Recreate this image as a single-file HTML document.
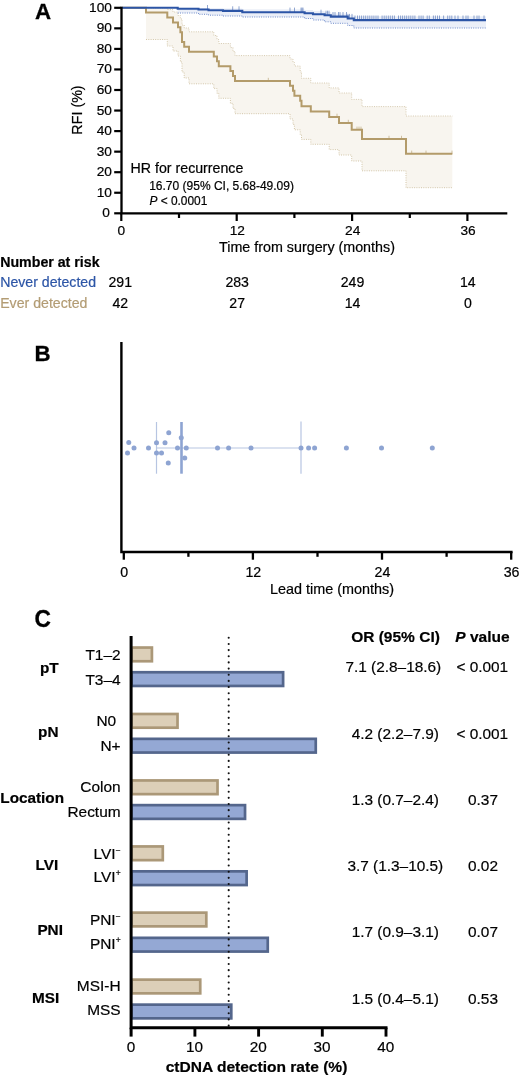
<!DOCTYPE html>
<html lang="en"><head><meta charset="utf-8"><title>Figure</title>
<style>html,body{margin:0;padding:0;background:#fff}svg{display:block}</style>
</head><body>
<svg width="520" height="1077" viewBox="0 0 520 1077" font-family='"Liberation Sans", Arial, Helvetica, sans-serif'>
<rect width="520" height="1077" fill="#fff"/>
<g id="panelA">
<text transform="translate(34.9,19.1) scale(0.97,1)" font-size="23" font-weight="bold" fill="#000" stroke="#000" stroke-width="0.3">A</text>
<path d="M146,8 L167.3,8 L167.3,9.5 L173,9.5 L173,12 L178,12 L178,15.5 L180.4,15.5 L180.4,19 L182,19 L182,25 L184.2,25 L184.2,28 L189,28 L189,31.8 L213.8,31.8 L213.8,35.5 L217,35.5 L217,39.5 L218.8,39.5 L218.8,43.5 L230.4,43.5 L230.4,47.5 L233,47.5 L233,51.5 L235,51.5 L235,55.6 L290,55.6 L290,59 L293,59 L293,62.5 L294.4,62.5 L294.4,66 L300.2,66 L300.2,72 L301.5,72 L301.5,78.3 L310.8,78.3 L310.8,83 L329.2,83 L329.2,87.9 L339,87.9 L339,93 L351.7,93 L351.7,99.4 L362,99.4 L362,106.6 L406,106.6 L406,116 L452.3,116 L452.3,187.7 L406,187.7 L406,170.8 L362,170.8 L362,161 L351.7,161 L351.7,155 L339,155 L339,149.6 L329.2,149.6 L329.2,144.3 L310.8,144.3 L310.8,139.4 L301.5,139.4 L301.5,134.6 L300.2,134.6 L300.2,129.8 L294.4,129.8 L294.4,124.5 L293,124.5 L293,119 L290,119 L290,113.7 L235,113.7 L235,108.5 L233,108.5 L233,103.4 L230.4,103.4 L230.4,98.3 L218.8,98.3 L218.8,93.4 L217,93.4 L217,88.6 L213.8,88.6 L213.8,83.8 L189,83.8 L189,78 L184.2,78 L184.2,72 L182,72 L182,62 L180.4,62 L180.4,56 L178,56 L178,51 L173,51 L173,46 L167.3,46 L167.3,39.5 L146,39.5 Z" fill="#f8f5ef"/>
<path d="M146,8 L167.3,8 L167.3,9.5 L173,9.5 L173,12 L178,12 L178,15.5 L180.4,15.5 L180.4,19 L182,19 L182,25 L184.2,25 L184.2,28 L189,28 L189,31.8 L213.8,31.8 L213.8,35.5 L217,35.5 L217,39.5 L218.8,39.5 L218.8,43.5 L230.4,43.5 L230.4,47.5 L233,47.5 L233,51.5 L235,51.5 L235,55.6 L290,55.6 L290,59 L293,59 L293,62.5 L294.4,62.5 L294.4,66 L300.2,66 L300.2,72 L301.5,72 L301.5,78.3 L310.8,78.3 L310.8,83 L329.2,83 L329.2,87.9 L339,87.9 L339,93 L351.7,93 L351.7,99.4 L362,99.4 L362,106.6 L406,106.6 L406,116 L452.3,116" fill="none" stroke="#d6cab0" stroke-width="1" stroke-dasharray="1 1.3"/>
<path d="M146,39.5 L167.3,39.5 L167.3,46 L173,46 L173,51 L178,51 L178,56 L180.4,56 L180.4,62 L182,62 L182,72 L184.2,72 L184.2,78 L189,78 L189,83.8 L213.8,83.8 L213.8,88.6 L217,88.6 L217,93.4 L218.8,93.4 L218.8,98.3 L230.4,98.3 L230.4,103.4 L233,103.4 L233,108.5 L235,108.5 L235,113.7 L290,113.7 L290,119 L293,119 L293,124.5 L294.4,124.5 L294.4,129.8 L300.2,129.8 L300.2,134.6 L301.5,134.6 L301.5,139.4 L310.8,139.4 L310.8,144.3 L329.2,144.3 L329.2,149.6 L339,149.6 L339,155 L351.7,155 L351.7,161 L362,161 L362,170.8 L406,170.8 L406,187.7 L452.3,187.7" fill="none" stroke="#d3c6a9" stroke-width="1" stroke-dasharray="1 1.3"/>
<path d="M177.7,7.8 L198.5,7.8 L198.5,7.9 L208.5,7.9 L208.5,8.1 L223,8.1 L223,8.4 L242.3,8.4 L242.3,9.2 L304.6,9.2 L304.6,10 L313,10 L313,11 L324.6,11 L324.6,12 L330.8,12 L330.8,13.5 L347.7,13.5 L347.7,15 L353.8,15 L353.8,16.3 L486,16.3 L486,28.0 L353.8,28.0 L353.8,25.5 L347.7,25.5 L347.7,23.3 L330.8,23.3 L330.8,21.8 L324.6,21.8 L324.6,20 L313,20 L313,18.5 L304.6,18.5 L304.6,17 L242.3,17 L242.3,16 L223,16 L223,15.2 L208.5,15.2 L208.5,14.3 L198.5,14.3 L198.5,13 L177.7,13 Z" fill="#ebeff8"/>
<path d="M177.7,13 L198.5,13 L198.5,14.3 L208.5,14.3 L208.5,15.2 L223,15.2 L223,16 L242.3,16 L242.3,17 L304.6,17 L304.6,18.5 L313,18.5 L313,20 L324.6,20 L324.6,21.8 L330.8,21.8 L330.8,23.3 L347.7,23.3 L347.7,25.5 L353.8,25.5 L353.8,28.0 L486,28.0" fill="none" stroke="#6f8ccb" stroke-width="1" stroke-dasharray="1 1.3"/>
<path d="M122,7.8 L146,7.8 L146,7.8 L146,12.6 L167.3,12.6 L167.3,17.5 L173,17.5 L173,22.4 L178,22.4 L178,27.3 L180.4,27.3 L180.4,32.2 L182,32.2 L182,41.9 L184.2,41.9 L184.2,46.8 L189,46.8 L189,51.7 L213.8,51.7 L213.8,56.5 L217,56.5 L217,61.3 L218.8,61.3 L218.8,66.2 L230.4,66.2 L230.4,71.1 L233,71.1 L233,76.1 L235,76.1 L235,81 L290,81 L290,85.8 L293,85.8 L293,90.8 L294.4,90.8 L294.4,95.8 L300.2,95.8 L300.2,100.8 L301.5,100.8 L301.5,106.2 L310.8,106.2 L310.8,111.6 L329.2,111.6 L329.2,116.9 L339,116.9 L339,123 L351.7,123 L351.7,129.8 L362,129.8 L362,139 L406,139 L406,153.8 L452.3,153.8" fill="none" stroke="#b39b6a" stroke-width="2" stroke-linejoin="miter"/>
<line x1="268.3" y1="77.8" x2="268.3" y2="81" stroke="#b39b6a" stroke-width="0.6"/>
<line x1="337" y1="113.7" x2="337" y2="116.9" stroke="#b39b6a" stroke-width="0.6"/>
<line x1="348.3" y1="119.8" x2="348.3" y2="123" stroke="#b39b6a" stroke-width="0.6"/>
<line x1="357" y1="126.60000000000001" x2="357" y2="129.8" stroke="#b39b6a" stroke-width="0.6"/>
<line x1="359" y1="126.60000000000001" x2="359" y2="129.8" stroke="#b39b6a" stroke-width="0.6"/>
<line x1="361" y1="126.60000000000001" x2="361" y2="129.8" stroke="#b39b6a" stroke-width="0.6"/>
<line x1="389" y1="135.8" x2="389" y2="139" stroke="#b39b6a" stroke-width="0.6"/>
<line x1="401.5" y1="135.8" x2="401.5" y2="139" stroke="#b39b6a" stroke-width="0.6"/>
<line x1="411.7" y1="150.60000000000002" x2="411.7" y2="153.8" stroke="#b39b6a" stroke-width="0.6"/>
<line x1="426" y1="150.60000000000002" x2="426" y2="153.8" stroke="#b39b6a" stroke-width="0.6"/>
<line x1="452" y1="150.60000000000002" x2="452" y2="153.8" stroke="#b39b6a" stroke-width="0.6"/>
<line x1="207.5" y1="5.0" x2="207.5" y2="9.55" stroke="#2c55a6" stroke-width="0.8" stroke-opacity="0.65"/>
<line x1="232.7" y1="6.3" x2="232.7" y2="10.9" stroke="#2c55a6" stroke-width="0.8" stroke-opacity="0.65"/>
<line x1="239.0" y1="6.3" x2="239.0" y2="10.9" stroke="#2c55a6" stroke-width="0.8" stroke-opacity="0.65"/>
<line x1="290.0" y1="7.6" x2="290.0" y2="12.2" stroke="#2c55a6" stroke-width="0.8" stroke-opacity="0.65"/>
<line x1="294.5" y1="7.6" x2="294.5" y2="12.2" stroke="#2c55a6" stroke-width="0.8" stroke-opacity="0.65"/>
<line x1="301.0" y1="7.6" x2="301.0" y2="12.2" stroke="#2c55a6" stroke-width="0.8" stroke-opacity="0.65"/>
<line x1="302.0" y1="7.6" x2="302.0" y2="12.2" stroke="#2c55a6" stroke-width="0.8" stroke-opacity="0.65"/>
<line x1="303.0" y1="7.6" x2="303.0" y2="12.2" stroke="#2c55a6" stroke-width="0.8" stroke-opacity="0.65"/>
<line x1="321.0" y1="9.7" x2="321.0" y2="14.3" stroke="#2c55a6" stroke-width="0.8" stroke-opacity="0.65"/>
<line x1="326.0" y1="10.7" x2="326.0" y2="15.3" stroke="#2c55a6" stroke-width="0.8" stroke-opacity="0.65"/>
<line x1="327.5" y1="10.7" x2="327.5" y2="15.3" stroke="#2c55a6" stroke-width="0.8" stroke-opacity="0.65"/>
<line x1="329.0" y1="10.7" x2="329.0" y2="15.3" stroke="#2c55a6" stroke-width="0.8" stroke-opacity="0.65"/>
<line x1="333.0" y1="12.0" x2="333.0" y2="16.6" stroke="#2c55a6" stroke-width="0.8" stroke-opacity="0.65"/>
<line x1="335.0" y1="12.0" x2="335.0" y2="16.6" stroke="#2c55a6" stroke-width="0.8" stroke-opacity="0.65"/>
<line x1="338.5" y1="12.0" x2="338.5" y2="16.6" stroke="#2c55a6" stroke-width="0.8" stroke-opacity="0.65"/>
<line x1="340.0" y1="12.0" x2="340.0" y2="16.6" stroke="#2c55a6" stroke-width="0.8" stroke-opacity="0.65"/>
<line x1="343.0" y1="12.0" x2="343.0" y2="16.6" stroke="#2c55a6" stroke-width="0.8" stroke-opacity="0.65"/>
<line x1="346.5" y1="12.0" x2="346.5" y2="16.6" stroke="#2c55a6" stroke-width="0.8" stroke-opacity="0.65"/>
<line x1="348.0" y1="13.9" x2="348.0" y2="18.5" stroke="#2c55a6" stroke-width="0.8" stroke-opacity="0.65"/>
<line x1="349.5" y1="13.9" x2="349.5" y2="18.5" stroke="#2c55a6" stroke-width="0.8" stroke-opacity="0.65"/>
<line x1="352.0" y1="13.9" x2="352.0" y2="18.5" stroke="#2c55a6" stroke-width="0.8" stroke-opacity="0.65"/>
<line x1="355.0" y1="15.5" x2="355.0" y2="20.1" stroke="#2c55a6" stroke-width="0.8" stroke-opacity="0.65"/>
<line x1="357.5" y1="15.5" x2="357.5" y2="20.1" stroke="#2c55a6" stroke-width="0.8" stroke-opacity="0.65"/>
<line x1="359.6" y1="15.5" x2="359.6" y2="20.1" stroke="#2c55a6" stroke-width="0.8" stroke-opacity="0.65"/>
<line x1="361.6" y1="15.5" x2="361.6" y2="20.1" stroke="#2c55a6" stroke-width="0.8" stroke-opacity="0.65"/>
<line x1="363.7" y1="15.5" x2="363.7" y2="20.1" stroke="#2c55a6" stroke-width="0.8" stroke-opacity="0.65"/>
<line x1="365.7" y1="15.5" x2="365.7" y2="20.1" stroke="#2c55a6" stroke-width="0.8" stroke-opacity="0.65"/>
<line x1="367.8" y1="15.5" x2="367.8" y2="20.1" stroke="#2c55a6" stroke-width="0.8" stroke-opacity="0.65"/>
<line x1="369.8" y1="15.5" x2="369.8" y2="20.1" stroke="#2c55a6" stroke-width="0.8" stroke-opacity="0.65"/>
<line x1="371.9" y1="15.5" x2="371.9" y2="20.1" stroke="#2c55a6" stroke-width="0.8" stroke-opacity="0.65"/>
<line x1="373.9" y1="15.5" x2="373.9" y2="20.1" stroke="#2c55a6" stroke-width="0.8" stroke-opacity="0.65"/>
<line x1="376.0" y1="15.5" x2="376.0" y2="20.1" stroke="#2c55a6" stroke-width="0.8" stroke-opacity="0.65"/>
<line x1="378.0" y1="15.5" x2="378.0" y2="20.1" stroke="#2c55a6" stroke-width="0.8" stroke-opacity="0.65"/>
<line x1="382.1" y1="15.5" x2="382.1" y2="20.1" stroke="#2c55a6" stroke-width="0.8" stroke-opacity="0.65"/>
<line x1="384.2" y1="15.5" x2="384.2" y2="20.1" stroke="#2c55a6" stroke-width="0.8" stroke-opacity="0.65"/>
<line x1="386.2" y1="15.5" x2="386.2" y2="20.1" stroke="#2c55a6" stroke-width="0.8" stroke-opacity="0.65"/>
<line x1="388.3" y1="15.5" x2="388.3" y2="20.1" stroke="#2c55a6" stroke-width="0.8" stroke-opacity="0.65"/>
<line x1="390.3" y1="15.5" x2="390.3" y2="20.1" stroke="#2c55a6" stroke-width="0.8" stroke-opacity="0.65"/>
<line x1="392.4" y1="15.5" x2="392.4" y2="20.1" stroke="#2c55a6" stroke-width="0.8" stroke-opacity="0.65"/>
<line x1="394.4" y1="15.5" x2="394.4" y2="20.1" stroke="#2c55a6" stroke-width="0.8" stroke-opacity="0.65"/>
<line x1="398.5" y1="15.5" x2="398.5" y2="20.1" stroke="#2c55a6" stroke-width="0.8" stroke-opacity="0.65"/>
<line x1="400.6" y1="15.5" x2="400.6" y2="20.1" stroke="#2c55a6" stroke-width="0.8" stroke-opacity="0.65"/>
<line x1="402.6" y1="15.5" x2="402.6" y2="20.1" stroke="#2c55a6" stroke-width="0.8" stroke-opacity="0.65"/>
<line x1="404.7" y1="15.5" x2="404.7" y2="20.1" stroke="#2c55a6" stroke-width="0.8" stroke-opacity="0.65"/>
<line x1="406.7" y1="15.5" x2="406.7" y2="20.1" stroke="#2c55a6" stroke-width="0.8" stroke-opacity="0.65"/>
<line x1="408.8" y1="15.5" x2="408.8" y2="20.1" stroke="#2c55a6" stroke-width="0.8" stroke-opacity="0.65"/>
<line x1="410.8" y1="15.5" x2="410.8" y2="20.1" stroke="#2c55a6" stroke-width="0.8" stroke-opacity="0.65"/>
<line x1="412.9" y1="15.5" x2="412.9" y2="20.1" stroke="#2c55a6" stroke-width="0.8" stroke-opacity="0.65"/>
<line x1="414.9" y1="15.5" x2="414.9" y2="20.1" stroke="#2c55a6" stroke-width="0.8" stroke-opacity="0.65"/>
<line x1="419.0" y1="15.5" x2="419.0" y2="20.1" stroke="#2c55a6" stroke-width="0.8" stroke-opacity="0.65"/>
<line x1="421.1" y1="15.5" x2="421.1" y2="20.1" stroke="#2c55a6" stroke-width="0.8" stroke-opacity="0.65"/>
<line x1="423.1" y1="15.5" x2="423.1" y2="20.1" stroke="#2c55a6" stroke-width="0.8" stroke-opacity="0.65"/>
<line x1="427.2" y1="15.5" x2="427.2" y2="20.1" stroke="#2c55a6" stroke-width="0.8" stroke-opacity="0.65"/>
<line x1="429.3" y1="15.5" x2="429.3" y2="20.1" stroke="#2c55a6" stroke-width="0.8" stroke-opacity="0.65"/>
<line x1="433.4" y1="15.5" x2="433.4" y2="20.1" stroke="#2c55a6" stroke-width="0.8" stroke-opacity="0.65"/>
<line x1="435.4" y1="15.5" x2="435.4" y2="20.1" stroke="#2c55a6" stroke-width="0.8" stroke-opacity="0.65"/>
<line x1="437.5" y1="15.5" x2="437.5" y2="20.1" stroke="#2c55a6" stroke-width="0.8" stroke-opacity="0.65"/>
<line x1="439.5" y1="15.5" x2="439.5" y2="20.1" stroke="#2c55a6" stroke-width="0.8" stroke-opacity="0.65"/>
<line x1="443.6" y1="15.5" x2="443.6" y2="20.1" stroke="#2c55a6" stroke-width="0.8" stroke-opacity="0.65"/>
<line x1="447.7" y1="15.5" x2="447.7" y2="20.1" stroke="#2c55a6" stroke-width="0.8" stroke-opacity="0.65"/>
<line x1="449.8" y1="15.5" x2="449.8" y2="20.1" stroke="#2c55a6" stroke-width="0.8" stroke-opacity="0.65"/>
<line x1="451.8" y1="15.5" x2="451.8" y2="20.1" stroke="#2c55a6" stroke-width="0.8" stroke-opacity="0.65"/>
<line x1="455.0" y1="15.5" x2="455.0" y2="20.1" stroke="#2c55a6" stroke-width="0.8" stroke-opacity="0.65"/>
<line x1="458.0" y1="15.5" x2="458.0" y2="20.1" stroke="#2c55a6" stroke-width="0.8" stroke-opacity="0.65"/>
<line x1="463.0" y1="15.5" x2="463.0" y2="20.1" stroke="#2c55a6" stroke-width="0.8" stroke-opacity="0.65"/>
<line x1="466.0" y1="15.5" x2="466.0" y2="20.1" stroke="#2c55a6" stroke-width="0.8" stroke-opacity="0.65"/>
<line x1="468.0" y1="15.5" x2="468.0" y2="20.1" stroke="#2c55a6" stroke-width="0.8" stroke-opacity="0.65"/>
<line x1="474.0" y1="15.5" x2="474.0" y2="20.1" stroke="#2c55a6" stroke-width="0.8" stroke-opacity="0.65"/>
<line x1="477.0" y1="15.5" x2="477.0" y2="20.1" stroke="#2c55a6" stroke-width="0.8" stroke-opacity="0.65"/>
<line x1="479.0" y1="15.5" x2="479.0" y2="20.1" stroke="#2c55a6" stroke-width="0.8" stroke-opacity="0.65"/>
<line x1="484.0" y1="15.5" x2="484.0" y2="20.1" stroke="#2c55a6" stroke-width="0.8" stroke-opacity="0.65"/>
<path d="M122,7.8 L177.7,7.8 L177.7,8.8 L198.5,8.8 L198.5,9.55 L208.5,9.55 L208.5,10.2 L223,10.2 L223,10.9 L242.3,10.9 L242.3,12.2 L304.6,12.2 L304.6,13.2 L313,13.2 L313,14.3 L324.6,14.3 L324.6,15.3 L330.8,15.3 L330.8,16.6 L347.7,16.6 L347.7,18.5 L353.8,18.5 L353.8,20.1 L486,20.1" fill="none" stroke="#2c55a6" stroke-width="2.1" />
<path d="M121.5,6.7 V214.4 M120.3,213.35 H507.3" stroke="#000" stroke-width="2.3" fill="none"/>
<line x1="114.2" y1="7.8" x2="121.5" y2="7.8" stroke="#000" stroke-width="2.2"/>
<text x="111.9" y="11.8" font-size="13.7" text-anchor="end" font-weight="normal" fill="#000" stroke="#000" stroke-width="0.2" >100</text>
<line x1="114.2" y1="28.35" x2="121.5" y2="28.35" stroke="#000" stroke-width="2.2"/>
<text x="111.9" y="32.35" font-size="13.7" text-anchor="end" font-weight="normal" fill="#000" stroke="#000" stroke-width="0.2" >90</text>
<line x1="114.2" y1="48.9" x2="121.5" y2="48.9" stroke="#000" stroke-width="2.2"/>
<text x="111.9" y="52.9" font-size="13.7" text-anchor="end" font-weight="normal" fill="#000" stroke="#000" stroke-width="0.2" >80</text>
<line x1="114.2" y1="69.45" x2="121.5" y2="69.45" stroke="#000" stroke-width="2.2"/>
<text x="111.9" y="73.45" font-size="13.7" text-anchor="end" font-weight="normal" fill="#000" stroke="#000" stroke-width="0.2" >70</text>
<line x1="114.2" y1="90.0" x2="121.5" y2="90.0" stroke="#000" stroke-width="2.2"/>
<text x="111.9" y="94.0" font-size="13.7" text-anchor="end" font-weight="normal" fill="#000" stroke="#000" stroke-width="0.2" >60</text>
<line x1="114.2" y1="110.55" x2="121.5" y2="110.55" stroke="#000" stroke-width="2.2"/>
<text x="111.9" y="114.55" font-size="13.7" text-anchor="end" font-weight="normal" fill="#000" stroke="#000" stroke-width="0.2" >50</text>
<line x1="114.2" y1="131.1" x2="121.5" y2="131.1" stroke="#000" stroke-width="2.2"/>
<text x="111.9" y="135.1" font-size="13.7" text-anchor="end" font-weight="normal" fill="#000" stroke="#000" stroke-width="0.2" >40</text>
<line x1="114.2" y1="151.65" x2="121.5" y2="151.65" stroke="#000" stroke-width="2.2"/>
<text x="111.9" y="155.65" font-size="13.7" text-anchor="end" font-weight="normal" fill="#000" stroke="#000" stroke-width="0.2" >30</text>
<line x1="114.2" y1="172.2" x2="121.5" y2="172.2" stroke="#000" stroke-width="2.2"/>
<text x="111.9" y="176.2" font-size="13.7" text-anchor="end" font-weight="normal" fill="#000" stroke="#000" stroke-width="0.2" >20</text>
<line x1="114.2" y1="192.75" x2="121.5" y2="192.75" stroke="#000" stroke-width="2.2"/>
<text x="111.9" y="196.75" font-size="13.7" text-anchor="end" font-weight="normal" fill="#000" stroke="#000" stroke-width="0.2" >10</text>
<line x1="114.2" y1="213.3" x2="121.5" y2="213.3" stroke="#000" stroke-width="2.2"/>
<text x="109.9" y="217.3" font-size="13.7" text-anchor="end" font-weight="normal" fill="#000" stroke="#000" stroke-width="0.2" >0</text>
<line x1="121.3" y1="213.3" x2="121.3" y2="221" stroke="#000" stroke-width="2.2"/>
<text x="121.4" y="235.4" font-size="13.7" text-anchor="middle" font-weight="normal" fill="#000" stroke="#000" stroke-width="0.2" >0</text>
<line x1="179.0" y1="213.3" x2="179.0" y2="218" stroke="#000" stroke-width="2.2"/>
<line x1="236.7" y1="213.3" x2="236.7" y2="221" stroke="#000" stroke-width="2.2"/>
<text x="237.3" y="235.4" font-size="13.7" text-anchor="middle" font-weight="normal" fill="#000" stroke="#000" stroke-width="0.2" >12</text>
<line x1="294.4" y1="213.3" x2="294.4" y2="218" stroke="#000" stroke-width="2.2"/>
<line x1="352.1" y1="213.3" x2="352.1" y2="221" stroke="#000" stroke-width="2.2"/>
<text x="352.7" y="235.4" font-size="13.7" text-anchor="middle" font-weight="normal" fill="#000" stroke="#000" stroke-width="0.2" >24</text>
<line x1="409.8" y1="213.3" x2="409.8" y2="218" stroke="#000" stroke-width="2.2"/>
<line x1="467.4" y1="213.3" x2="467.4" y2="221" stroke="#000" stroke-width="2.2"/>
<text x="468.0" y="235.4" font-size="13.7" text-anchor="middle" font-weight="normal" fill="#000" stroke="#000" stroke-width="0.2" >36</text>
<text x="307" y="252.42" font-size="14.3" text-anchor="middle" font-weight="normal" fill="#000" stroke="#000" stroke-width="0.2" >Time from surgery (months)</text>
<text transform="translate(82.3,110) rotate(-90)" font-size="14.3" text-anchor="middle" fill="#000" stroke="#000" stroke-width="0.2">RFI (%)</text>
<text x="130.6" y="172.5" font-size="14.2" text-anchor="start" font-weight="normal" fill="#000" stroke="#000" stroke-width="0.2" >HR for recurrence</text>
<text x="149.2" y="189.7" font-size="12" text-anchor="start" font-weight="normal" fill="#000" stroke="#000" stroke-width="0.2" >16.70 (95% CI, 5.68-49.09)</text>
<text x="149.4" y="205.1" font-size="11.9" fill="#000" stroke="#000" stroke-width="0.2"><tspan font-style="italic">P</tspan> &lt; 0.0001</text>
<text x="0.2" y="266.5" font-size="14.2" text-anchor="start" font-weight="bold" fill="#000" stroke="#000" stroke-width="0.2" >Number at risk</text>
<text x="0.2" y="286.9" font-size="14.15" text-anchor="start" font-weight="normal" fill="#2c55a6" stroke="#2c55a6" stroke-width="0.2" >Never detected</text>
<text x="0.2" y="308.4" font-size="14.15" text-anchor="start" font-weight="normal" fill="#b39c74" stroke="#b39c74" stroke-width="0.2" >Ever detected</text>
<text x="120.3" y="286.8" font-size="14.1" text-anchor="middle" font-weight="normal" fill="#000" stroke="#000" stroke-width="0.2" >291</text>
<text x="120.3" y="308.2" font-size="14.1" text-anchor="middle" font-weight="normal" fill="#000" stroke="#000" stroke-width="0.2" >42</text>
<text x="237.2" y="286.8" font-size="14.1" text-anchor="middle" font-weight="normal" fill="#000" stroke="#000" stroke-width="0.2" >283</text>
<text x="237.2" y="308.2" font-size="14.1" text-anchor="middle" font-weight="normal" fill="#000" stroke="#000" stroke-width="0.2" >27</text>
<text x="352.5" y="286.8" font-size="14.1" text-anchor="middle" font-weight="normal" fill="#000" stroke="#000" stroke-width="0.2" >249</text>
<text x="352.5" y="308.2" font-size="14.1" text-anchor="middle" font-weight="normal" fill="#000" stroke="#000" stroke-width="0.2" >14</text>
<text x="467.8" y="286.8" font-size="14.1" text-anchor="middle" font-weight="normal" fill="#000" stroke="#000" stroke-width="0.2" >14</text>
<text x="467.8" y="308.2" font-size="14.1" text-anchor="middle" font-weight="normal" fill="#000" stroke="#000" stroke-width="0.2" >0</text>
</g>
<g id="panelB">
<text transform="translate(34.5,361.1) scale(0.97,1)" font-size="23" font-weight="bold" fill="#000" stroke="#000" stroke-width="0.3">B</text>
<path d="M121.4,342 V553.2 M120.2,552 H512.6" stroke="#000" stroke-width="2.4" fill="none"/>
<line x1="123.8" y1="552" x2="123.8" y2="559.7" stroke="#000" stroke-width="2.3"/>
<text x="124.3" y="577.18" font-size="14.2" text-anchor="middle" font-weight="normal" fill="#000" stroke="#000" stroke-width="0.2" >0</text>
<line x1="188.4" y1="552" x2="188.4" y2="556.8" stroke="#000" stroke-width="2.3"/>
<line x1="252.9" y1="552" x2="252.9" y2="559.7" stroke="#000" stroke-width="2.3"/>
<text x="253.3" y="577.18" font-size="14.2" text-anchor="middle" font-weight="normal" fill="#000" stroke="#000" stroke-width="0.2" >12</text>
<line x1="317.5" y1="552" x2="317.5" y2="556.8" stroke="#000" stroke-width="2.3"/>
<line x1="382.0" y1="552" x2="382.0" y2="559.7" stroke="#000" stroke-width="2.3"/>
<text x="382.4" y="577.18" font-size="14.2" text-anchor="middle" font-weight="normal" fill="#000" stroke="#000" stroke-width="0.2" >24</text>
<line x1="446.6" y1="552" x2="446.6" y2="556.8" stroke="#000" stroke-width="2.3"/>
<line x1="511.2" y1="552" x2="511.2" y2="559.7" stroke="#000" stroke-width="2.3"/>
<text x="511.6" y="577.18" font-size="14.2" text-anchor="middle" font-weight="normal" fill="#000" stroke="#000" stroke-width="0.2" >36</text>
<text x="332" y="594.06" font-size="14.4" text-anchor="middle" font-weight="normal" fill="#000" stroke="#000" stroke-width="0.2" >Lead time (months)</text>
<line x1="156.5" y1="448" x2="301" y2="448" stroke="#b7c5e2" stroke-width="1.2"/>
<line x1="156.5" y1="422" x2="156.5" y2="473.7" stroke="#b7c5e2" stroke-width="1.2"/>
<line x1="301" y1="421.5" x2="301" y2="473.7" stroke="#b7c5e2" stroke-width="1.2"/>
<line x1="181.5" y1="422" x2="181.5" y2="473.7" stroke="#8ea4d2" stroke-width="2.6"/>
<circle cx="128.75" cy="442.6" r="2.5" fill="#8ea4d2"/>
<circle cx="127.5" cy="453" r="2.5" fill="#8ea4d2"/>
<circle cx="134" cy="448" r="2.5" fill="#8ea4d2"/>
<circle cx="148.5" cy="448" r="2.5" fill="#8ea4d2"/>
<circle cx="156.5" cy="442.75" r="2.5" fill="#8ea4d2"/>
<circle cx="156.5" cy="453" r="2.5" fill="#8ea4d2"/>
<circle cx="161.5" cy="453" r="2.5" fill="#8ea4d2"/>
<circle cx="165" cy="442.75" r="2.5" fill="#8ea4d2"/>
<circle cx="168.75" cy="432.75" r="2.5" fill="#8ea4d2"/>
<circle cx="168.25" cy="463" r="2.5" fill="#8ea4d2"/>
<circle cx="177.5" cy="448" r="2.5" fill="#8ea4d2"/>
<circle cx="181.25" cy="437.75" r="2.5" fill="#8ea4d2"/>
<circle cx="186.25" cy="448" r="2.5" fill="#8ea4d2"/>
<circle cx="184.75" cy="458" r="2.5" fill="#8ea4d2"/>
<circle cx="217.5" cy="448" r="2.5" fill="#8ea4d2"/>
<circle cx="228.6" cy="448" r="2.5" fill="#8ea4d2"/>
<circle cx="251" cy="448" r="2.5" fill="#8ea4d2"/>
<circle cx="301" cy="448" r="2.5" fill="#8ea4d2"/>
<circle cx="308.6" cy="448" r="2.5" fill="#8ea4d2"/>
<circle cx="314.6" cy="448" r="2.5" fill="#8ea4d2"/>
<circle cx="346.4" cy="448" r="2.5" fill="#8ea4d2"/>
<circle cx="381.5" cy="448" r="2.5" fill="#8ea4d2"/>
<circle cx="432.3" cy="448" r="2.5" fill="#8ea4d2"/>
</g>
<g id="panelC">
<text transform="translate(34.6,627.4) scale(0.96,1)" font-size="23.7" font-weight="bold" fill="#000" stroke="#000" stroke-width="0.3">C</text>
<rect x="131.5" y="647.55" width="20.41" height="13.70" fill="#dccfb8" stroke="#ab9878" stroke-width="2.7"/>
<text x="120.6" y="659.8" font-size="15.45" text-anchor="end" font-weight="normal" fill="#000" stroke="#000" stroke-width="0.2" >T1–2</text>
<rect x="131.5" y="672.25" width="151.61" height="13.70" fill="#94a8d4" stroke="#54668c" stroke-width="2.7"/>
<text x="120.6" y="684.8" font-size="15.45" text-anchor="end" font-weight="normal" fill="#000" stroke="#000" stroke-width="0.2" >T3–4</text>
<rect x="131.5" y="714.00" width="46.01" height="13.70" fill="#dccfb8" stroke="#ab9878" stroke-width="2.7"/>
<text x="116.2" y="726" font-size="15.45" text-anchor="end" font-weight="normal" fill="#000" stroke="#000" stroke-width="0.2" >N0</text>
<rect x="131.5" y="738.85" width="184.25" height="13.70" fill="#94a8d4" stroke="#54668c" stroke-width="2.7"/>
<text x="120.6" y="750.5" font-size="15.45" text-anchor="end" font-weight="normal" fill="#000" stroke="#000" stroke-width="0.2" >N+</text>
<rect x="131.5" y="780.45" width="86.01" height="13.70" fill="#dccfb8" stroke="#ab9878" stroke-width="2.7"/>
<text x="120.6" y="792.1" font-size="15.45" text-anchor="end" font-weight="normal" fill="#000" stroke="#000" stroke-width="0.2" >Colon</text>
<rect x="131.5" y="805.15" width="113.53" height="13.70" fill="#94a8d4" stroke="#54668c" stroke-width="2.7"/>
<text x="120.6" y="817.1" font-size="15.45" text-anchor="end" font-weight="normal" fill="#000" stroke="#000" stroke-width="0.2" >Rectum</text>
<rect x="131.5" y="846.45" width="31.29" height="13.70" fill="#dccfb8" stroke="#ab9878" stroke-width="2.7"/>
<text x="120.6" y="859.4" font-size="15.45" text-anchor="end" font-weight="normal" fill="#000" stroke="#000" stroke-width="0.2" >LVI<tspan dy="-6.3" font-size="8.5">−</tspan></text>
<rect x="131.5" y="871.35" width="115.13" height="13.70" fill="#94a8d4" stroke="#54668c" stroke-width="2.7"/>
<text x="120.6" y="882.2" font-size="15.45" text-anchor="end" font-weight="normal" fill="#000" stroke="#000" stroke-width="0.2" >LVI<tspan dy="-6.3" font-size="8.5">+</tspan></text>
<rect x="131.5" y="912.65" width="74.81" height="13.70" fill="#dccfb8" stroke="#ab9878" stroke-width="2.7"/>
<text x="120.6" y="925" font-size="15.45" text-anchor="end" font-weight="normal" fill="#000" stroke="#000" stroke-width="0.2" >PNI<tspan dy="-6.3" font-size="8.5">−</tspan></text>
<rect x="131.5" y="937.85" width="136.25" height="13.70" fill="#94a8d4" stroke="#54668c" stroke-width="2.7"/>
<text x="120.6" y="948.8" font-size="15.45" text-anchor="end" font-weight="normal" fill="#000" stroke="#000" stroke-width="0.2" >PNI<tspan dy="-6.3" font-size="8.5">+</tspan></text>
<rect x="131.5" y="979.65" width="68.73" height="13.70" fill="#dccfb8" stroke="#ab9878" stroke-width="2.7"/>
<text x="120.6" y="990.5" font-size="15.45" text-anchor="end" font-weight="normal" fill="#000" stroke="#000" stroke-width="0.2" >MSI-H</text>
<rect x="131.5" y="1004.65" width="99.77" height="13.70" fill="#94a8d4" stroke="#54668c" stroke-width="2.7"/>
<text x="120.6" y="1015.2" font-size="15.45" text-anchor="end" font-weight="normal" fill="#000" stroke="#000" stroke-width="0.2" >MSS</text>
<line x1="228.7" y1="637.8" x2="228.7" y2="1027" stroke="#111" stroke-width="2.1" stroke-linecap="round" stroke-dasharray="0.01 6.145"/>
<path d="M131.1,636 V1029.2 M129.6,1027.7 H387.5" stroke="#000" stroke-width="3" fill="none"/>
<line x1="131.1" y1="1027.7" x2="131.1" y2="1036.6" stroke="#000" stroke-width="3"/>
<text x="130.89999999999998" y="1052.38" font-size="15.3" text-anchor="middle" font-weight="normal" fill="#000" stroke="#000" stroke-width="0.2" >0</text>
<line x1="194.89999999999998" y1="1027.7" x2="194.89999999999998" y2="1036.6" stroke="#000" stroke-width="2.9"/>
<text x="194.59999999999997" y="1052.38" font-size="15.3" text-anchor="middle" font-weight="normal" fill="#000" stroke="#000" stroke-width="0.2" >10</text>
<line x1="258.6" y1="1027.7" x2="258.6" y2="1036.6" stroke="#000" stroke-width="2.9"/>
<text x="258.3" y="1052.38" font-size="15.3" text-anchor="middle" font-weight="normal" fill="#000" stroke="#000" stroke-width="0.2" >20</text>
<line x1="322.3" y1="1027.7" x2="322.3" y2="1036.6" stroke="#000" stroke-width="2.9"/>
<text x="322.0" y="1052.38" font-size="15.3" text-anchor="middle" font-weight="normal" fill="#000" stroke="#000" stroke-width="0.2" >30</text>
<line x1="386.0" y1="1027.7" x2="386.0" y2="1036.6" stroke="#000" stroke-width="2.9"/>
<text x="385.7" y="1052.38" font-size="15.3" text-anchor="middle" font-weight="normal" fill="#000" stroke="#000" stroke-width="0.2" >40</text>
<text x="256.5" y="1072.4" font-size="15.55" text-anchor="middle" font-weight="bold" fill="#000" stroke="#000" stroke-width="0.2" >ctDNA detection rate (%)</text>
<text x="40.0" y="672.6" font-size="15.3" text-anchor="start" font-weight="bold" fill="#000" stroke="#000" stroke-width="0.2" >pT</text>
<text x="38.1" y="737.4" font-size="15.3" text-anchor="start" font-weight="bold" fill="#000" stroke="#000" stroke-width="0.2" >pN</text>
<text x="0.3" y="802.8" font-size="15.3" text-anchor="start" font-weight="bold" fill="#000" stroke="#000" stroke-width="0.2" >Location</text>
<text x="35.6" y="870.3" font-size="15.3" text-anchor="start" font-weight="bold" fill="#000" stroke="#000" stroke-width="0.2" >LVI</text>
<text x="37.4" y="935.0" font-size="15.3" text-anchor="start" font-weight="bold" fill="#000" stroke="#000" stroke-width="0.2" >PNI</text>
<text x="32.0" y="1002.5" font-size="15.3" text-anchor="start" font-weight="bold" fill="#000" stroke="#000" stroke-width="0.2" >MSI</text>
<text x="395.5" y="641.9" font-size="15.5" text-anchor="middle" font-weight="bold" fill="#000" stroke="#000" stroke-width="0.2" >OR (95% CI)</text>
<text x="482.4" y="641.9" font-size="15.5" font-weight="bold" text-anchor="middle" fill="#000" stroke="#000" stroke-width="0.2"><tspan font-style="italic">P</tspan> value</text>
<text x="393.3" y="672.41" font-size="15.4" text-anchor="middle" font-weight="normal" fill="#000" stroke="#000" stroke-width="0.2" >7.1 (2.8–18.6)</text>
<text x="482.3" y="672.41" font-size="15.4" text-anchor="middle" font-weight="normal" fill="#000" stroke="#000" stroke-width="0.2" >&lt; 0.001</text>
<text x="395.3" y="738.91" font-size="15.4" text-anchor="middle" font-weight="normal" fill="#000" stroke="#000" stroke-width="0.2" >4.2 (2.2–7.9)</text>
<text x="482.3" y="738.91" font-size="15.4" text-anchor="middle" font-weight="normal" fill="#000" stroke="#000" stroke-width="0.2" >&lt; 0.001</text>
<text x="395.3" y="804.61" font-size="15.4" text-anchor="middle" font-weight="normal" fill="#000" stroke="#000" stroke-width="0.2" >1.3 (0.7–2.4)</text>
<text x="483" y="804.61" font-size="15.4" text-anchor="middle" font-weight="normal" fill="#000" stroke="#000" stroke-width="0.2" >0.37</text>
<text x="395.3" y="871.41" font-size="15.4" text-anchor="middle" font-weight="normal" fill="#000" stroke="#000" stroke-width="0.2" >3.7 (1.3–10.5)</text>
<text x="483" y="871.41" font-size="15.4" text-anchor="middle" font-weight="normal" fill="#000" stroke="#000" stroke-width="0.2" >0.02</text>
<text x="395.3" y="936.91" font-size="15.4" text-anchor="middle" font-weight="normal" fill="#000" stroke="#000" stroke-width="0.2" >1.7 (0.9–3.1)</text>
<text x="483" y="936.91" font-size="15.4" text-anchor="middle" font-weight="normal" fill="#000" stroke="#000" stroke-width="0.2" >0.07</text>
<text x="395.3" y="1003.61" font-size="15.4" text-anchor="middle" font-weight="normal" fill="#000" stroke="#000" stroke-width="0.2" >1.5 (0.4–5.1)</text>
<text x="483" y="1003.61" font-size="15.4" text-anchor="middle" font-weight="normal" fill="#000" stroke="#000" stroke-width="0.2" >0.53</text>
</g>
</svg>
</body></html>
